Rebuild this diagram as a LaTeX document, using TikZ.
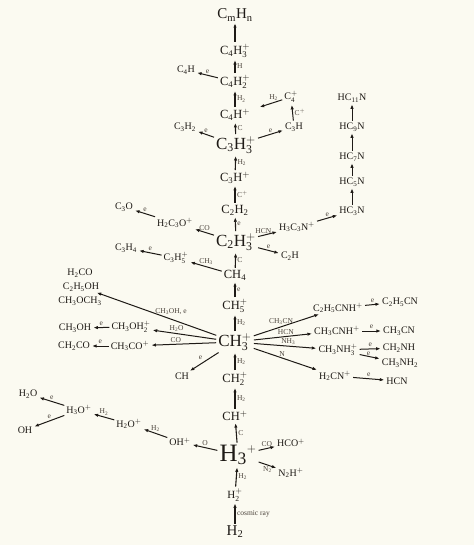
\documentclass[tikz,border=0pt]{standalone}
\usepackage{fontspec}
\setmainfont{Liberation Serif}
\usetikzlibrary{arrows.meta}
\definecolor{paper}{HTML}{FBFAF1}
\definecolor{ink}{HTML}{1E1A16}
\definecolor{faint}{HTML}{4A423A}
\newcommand{\chm}[1]{$\mathrm{#1}$}

\begin{document}
\begin{tikzpicture}[x=1pt, y=-1pt, color=ink,
  mol/.style={inner sep=1pt, font=\fontsize{10}{11}\selectfont},
  spinemol/.style={inner sep=1pt, font=\fontsize{12.5}{13}\selectfont},
  bigmol/.style={inner sep=1pt, font=\fontsize{17}{18}\selectfont},
  hugemol/.style={inner sep=1pt, font=\fontsize{25}{26}\selectfont},
  lbl/.style={font=\fontsize{7.5}{8}\selectfont, text=faint, inner sep=1.5pt},
  arr/.style={-{Latex[length=4.5pt,width=3.4pt]}, line width=1pt, shorten <=1pt, shorten >=1pt},
  up/.style={arr, line width=1.1pt}
]
\path[use as bounding box, fill=paper] (0,0) rectangle (474,545);

% main chain, bottom to top
\node[spinemol, font=\fontsize{15}{16}\selectfont] (h2) at (235,532) {\chm{H_2}};
\node[mol, font=\fontsize{11}{12}\selectfont] (h2p) at (235,495) {\chm{H_2^+}};
\node[hugemol] (h3) at (238,455) {\chm{H_3{}^{\scriptscriptstyle +}}};
\node[spinemol] (chp) at (235,416) {\chm{CH^+}};
\node[spinemol] (ch2) at (235,379) {\chm{CH_2^+}};
\node[bigmol] (ch3) at (235,342) {\chm{CH_3^+}};
\node[spinemol] (ch5) at (235,306) {\chm{CH_5^+}};
\node[spinemol] (ch4) at (235,275) {\chm{CH_4}};
\node[bigmol] (c2h3) at (236,242) {\chm{C_2H_3^+}};
\node[spinemol] (c2h2) at (235,210) {\chm{C_2H_2}};
\node[spinemol] (c3h) at (235,178) {\chm{C_3H^+}};
\node[bigmol] (c3h3) at (236,145) {\chm{C_3H_3^+}};
\node[spinemol] (c4h) at (235,115) {\chm{C_4H^+}};
\node[spinemol] (c4h2) at (235,82) {\chm{C_4H_2^+}};
\node[spinemol] (c4h3) at (235,51) {\chm{C_4H_3^+}};
\node[spinemol, font=\fontsize{15}{16}\selectfont] (cmhn) at (235,15) {\chm{C_mH_n}};

\draw[up] (h2) -- (h2p) node[lbl, midway, right] {cosmic ray};
\draw[up] (h2p) -- (h3) node[lbl, midway, right] {\chm{H_2}};
\draw[up] (h3) -- (chp) node[lbl, midway, right] {C};
\draw[up] (chp) -- (ch2) node[lbl, midway, right] {\chm{H_2}};
\draw[up] (ch2) -- (ch3) node[lbl, midway, right] {\chm{H_2}};
\draw[up] (ch3) -- (ch5) node[lbl, midway, right] {\chm{H_2}};
\draw[up] (ch5) -- (ch4) node[lbl, midway, right] {e};
\draw[up] (ch4) -- (c2h3) node[lbl, midway, right] {C};
\draw[up] (c2h3) -- (c2h2) node[lbl, midway, right] {e};
\draw[up] (c2h2) -- (c3h) node[lbl, midway, right] {\chm{C^+}};
\draw[up] (c3h) -- (c3h3) node[lbl, midway, right] {\chm{H_2}};
\draw[up] (c3h3) -- (c4h) node[lbl, midway, right] {C};
\draw[up] (c4h) -- (c4h2) node[lbl, midway, right] {\chm{H_2}};
\draw[up] (c4h2) -- (c4h3) node[lbl, midway, right] {H};
\draw[up] (c4h3) -- (cmhn);

% top branches
\node[mol] (c4hn) at (186,70) {\chm{C_4H}};
\node[mol] (c4p) at (291,97) {\chm{C_4^+}};
\node[mol] (c3hs) at (294,127) {\chm{C_3H}};
\node[mol] (c3h2) at (185,127) {\chm{C_3H_2}};
\draw[arr] (c4h2) -- (c4hn) node[lbl, midway, above] {e};
\draw[arr, shorten >=9pt] (c4p) -- (c4h) node[lbl, pos=.3, above] {\chm{H_2}};
\draw[arr] (c3hs) -- (c4p) node[lbl, midway, right] {\chm{C^+}};
\draw[arr] (c3h3) -- (c3hs) node[lbl, midway, above] {e};
\draw[arr] (c3h3) -- (c3h2) node[lbl, midway, above] {e};

% cyanopolyynes
\node[mol] (hc3) at (352,211) {\chm{HC_3N}};
\node[mol] (hc5) at (352,182) {\chm{HC_5N}};
\node[mol] (hc7) at (352,157) {\chm{HC_7N}};
\node[mol] (hc9) at (352,127) {\chm{HC_9N}};
\node[mol] (hc11) at (352,98) {\chm{HC_{11}N}};
\draw[arr] (hc3) -- (hc5);
\draw[arr] (hc5) -- (hc7);
\draw[arr] (hc7) -- (hc9);
\draw[arr] (hc9) -- (hc11);

% around C2H3+
\node[mol] (h3c3n) at (297,227) {\chm{H_3C_3N^+}};
\node[mol] (c2h) at (290,256) {\chm{C_2H}};
\node[mol] (h2c3o) at (175,223) {\chm{H_2C_3O^+}};
\node[mol] (c3o) at (124,207) {\chm{C_3O}};
\node[mol] (c3h5) at (176,258) {\chm{C_3H_5^+}};
\node[mol] (c3h4) at (126,248) {\chm{C_3H_4}};
\draw[arr] (c2h3) -- (h3c3n) node[lbl, pos=.3, above] {HCN};
\draw[arr] (h3c3n) -- (hc3) node[lbl, midway, above] {e};
\draw[arr] (c2h3) -- (c2h) node[lbl, midway, above] {e};
\draw[arr] (c2h3) -- (h2c3o) node[lbl, midway, above] {CO};
\draw[arr] (h2c3o) -- (c3o) node[lbl, midway, above] {e};
\draw[arr] (ch4) -- (c3h5) node[lbl, midway, above] {\chm{CH_3}};
\draw[arr] (c3h5) -- (c3h4) node[lbl, midway, above] {e};

% left of CH3+
\node[mol] (h2co) at (80,273) {\chm{H_2CO}};
\node[mol] (c2h5oh) at (81,287) {\chm{C_2H_5OH}};
\node[mol] (ch3och3) at (80,301) {\chm{CH_3OCH_3}};
\node[mol] (ch3oh2) at (131,327) {\chm{CH_3OH_2^+}};
\node[mol] (ch3oh) at (75,328) {\chm{CH_3OH}};
\node[mol] (ch3co) at (130,346) {\chm{CH_3CO^+}};
\node[mol] (ch2co) at (74,346) {\chm{CH_2CO}};
\node[mol] (ch) at (182,376) {\chm{CH}};
\draw[arr] (ch3) -- (c2h5oh) node[lbl, pos=.38, above=3pt] {\chm{CH_3OH}, e};
\draw[arr] (ch3) -- (ch3oh2) node[lbl, pos=.62, above] {\chm{H_2O}};
\draw[arr] (ch3oh2) -- (ch3oh) node[lbl, midway, above] {e};
\draw[arr] (ch3) -- (ch3co) node[lbl, pos=.62, above] {CO};
\draw[arr] (ch3co) -- (ch2co) node[lbl, midway, above] {e};
\draw[arr] (ch3) -- (ch) node[lbl, midway, above left] {e};

% right of CH3+
\node[mol] (c2h5cnh) at (338,308) {\chm{C_2H_5CNH^+}};
\node[mol] (c2h5cn) at (400,302) {\chm{C_2H_5CN}};
\node[mol] (ch3cnh) at (337,331) {\chm{CH_3CNH^+}};
\node[mol] (ch3cn) at (399,331) {\chm{CH_3CN}};
\node[mol] (ch3nh3) at (338,350) {\chm{CH_3NH_3^+}};
\node[mol] (ch2nh) at (399,348) {\chm{CH_2NH}};
\node[mol] (ch3nh2) at (400,363) {\chm{CH_3NH_2}};
\node[mol] (h2cn) at (335,376) {\chm{H_2CN^+}};
\node[mol] (hcn) at (397,381) {HCN};
\draw[arr] (ch3) -- (c2h5cnh) node[lbl, pos=.42, above] {\chm{CH_3CN}};
\draw[arr] (c2h5cnh) -- (c2h5cn) node[lbl, midway, above] {e};
\draw[arr] (ch3) -- (ch3cnh) node[lbl, pos=.55, above, inner sep=1pt] {HCN};
\draw[arr] (ch3cnh) -- (ch3cn) node[lbl, midway, above] {e};
\draw[arr] (ch3) -- (ch3nh3) node[lbl, pos=.55, above] {\chm{NH_3}};
\draw[arr] (ch3nh3) -- (ch2nh) node[lbl, midway, above] {e};
\draw[arr] (ch3nh3) -- (ch3nh2) node[lbl, pos=.45, above, inner sep=0pt] {e};
\draw[arr] (ch3) -- (h2cn) node[lbl, pos=.45, above] {N};
\draw[arr] (h2cn) -- (hcn) node[lbl, midway, above] {e};

% around H3+
\node[mol] (ohp) at (180,442) {\chm{OH^+}};
\node[mol] (h2op) at (129,424) {\chm{H_2O^+}};
\node[mol] (h3op) at (79,410) {\chm{H_3O^+}};
\node[mol] (h2o) at (28,394) {\chm{H_2O}};
\node[mol] (oh) at (25,430) {OH};
\node[mol] (hco) at (291,443) {\chm{HCO^+}};
\node[mol] (n2h) at (291,473) {\chm{N_2H^+}};
\draw[arr] (h3) -- (ohp) node[lbl, midway, above] {O};
\draw[arr] (ohp) -- (h2op) node[lbl, midway, above] {\chm{H_2}};
\draw[arr] (h2op) -- (h3op) node[lbl, midway, above] {\chm{H_2}};
\draw[arr] (h3op) -- (h2o) node[lbl, midway, above] {e};
\draw[arr] (h3op) -- (oh) node[lbl, midway, above] {e};
\draw[arr] (h3) -- (hco) node[lbl, midway, above] {CO};
\draw[arr] (h3) -- (n2h) node[lbl, midway, below] {\chm{N_2}};

\end{tikzpicture}
\end{document}
